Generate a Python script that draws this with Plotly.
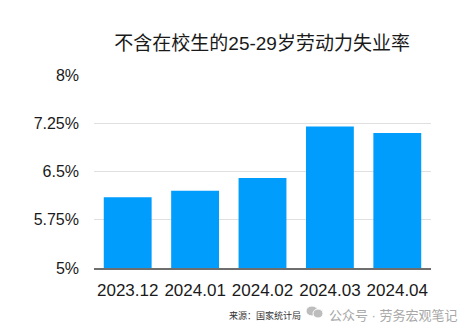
import plotly.graph_objects as go

# Monthly unemployment rate, ages 25-29, excluding students (%)
months = ["2023.12", "2024.01", "2024.02", "2024.03", "2024.04"]
rates = [6.1, 6.2, 6.4, 7.2, 7.1]
tick_vals = [5, 5.75, 6.5, 7.25, 8]
tick_text = ["5%", "5.75%", "6.5%", "7.25%", "8%"]

FONT = "Liberation Sans, Noto Sans CJK SC, sans-serif"

fig = go.Figure(
    go.Bar(
        x=months,
        y=rates,
        base=0,
        marker=dict(color="#009DFC", line=dict(width=0)),
        hoverinfo="x+y",
    )
)

fig.update_layout(
    width=474,
    height=333,
    margin=dict(l=94, r=43, t=75, b=65),
    paper_bgcolor="white",
    plot_bgcolor="white",
    bargap=0.29,
    showlegend=False,
    font=dict(family=FONT, color="#1a1a1a"),
    title=dict(
        text="不含在校生的25-29岁劳动力失业率",
        x=0.553,
        xanchor="center",
        y=0.87,
        yanchor="middle",
        font=dict(size=19, color="#1a1a1a", family=FONT),
    ),
)

fig.update_yaxes(
    range=[5, 8],
    tickvals=tick_vals,
    ticktext=tick_text,
    showgrid=True,
    gridcolor="#e0e0e0",
    gridwidth=1,
    zeroline=False,
    showline=False,
    ticks="",
    ticklabelstandoff=14,
    tickfont=dict(size=16, color="#1a1a1a", family=FONT),
)

fig.update_xaxes(
    showline=True,
    linecolor="#6e6e6e",
    linewidth=1.5,
    ticks="",
    showgrid=False,
    ticklabelstandoff=6,
    tickfont=dict(size=17, color="#1a1a1a", family=FONT),
)

# Source note and account name beneath the chart
fig.add_annotation(
    text="来源：国家统计局",
    xref="paper", yref="paper",
    x=(227 - 94) / 337, y=-0.245,
    xanchor="left", yanchor="middle",
    showarrow=False,
    font=dict(size=9, color="#333333", family=FONT),
)

# Small chat-bubble logo before the account name
fig.add_shape(
    type="circle", xref="paper", yref="paper",
    x0=0.6291, x1=0.6647, y0=-0.2487, y1=-0.1969,
    fillcolor="#bdbdbd", line=dict(color="white", width=1),
)
fig.add_shape(
    type="circle", xref="paper", yref="paper",
    x0=0.6499, x1=0.6795, y0=-0.2591, y1=-0.2124,
    fillcolor="#bdbdbd", line=dict(color="white", width=1),
)

fig.add_annotation(
    text="公众号 · 劳务宏观笔记",
    xref="paper", yref="paper",
    x=(327 - 94) / 337, y=-0.245,
    xanchor="left", yanchor="middle",
    showarrow=False,
    font=dict(size=13, color="#a8a8a8", family=FONT),
)

fig.write_html("out.html")
